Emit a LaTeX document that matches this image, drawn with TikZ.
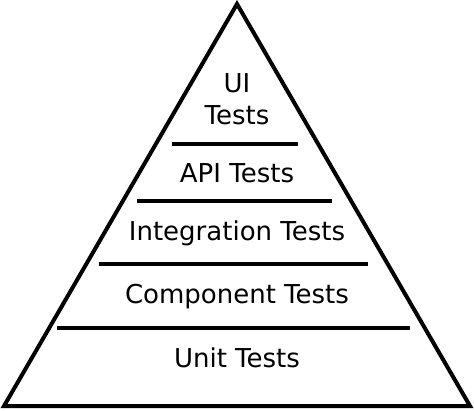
\documentclass[tikz,border=0pt]{standalone}
\usepackage{fontspec}
\setmainfont{DejaVu Sans}
\usepackage{tikz}
\begin{document}
\begin{tikzpicture}[x=1pt,y=-1pt,line width=4pt,
  every node/.style={anchor=base,inner sep=0pt,align=center,font=\fontsize{26}{32}\selectfont}]
\useasboundingbox (0,0) rectangle (474,410);
% Outline of the pyramid
\coordinate (apex) at (237,4);
\coordinate (left) at (4,406);
\coordinate (right) at (470,406);
\draw (apex) -- (left) -- (right) -- cycle;
% Dividers between the layers
\draw (172,144) -- (298,144);
\draw (137,201) -- (332,201);
\draw (99,264) -- (368,264);
\draw (57,328) -- (410,328);
% Layer labels
\node (ui) at (237,124) {UI\\Tests};
\node (api) at (237,182) {API Tests};
\node (integration) at (237,240) {Integration Tests};
\node (component) at (237,303) {Component Tests};
\node (unit) at (237,367) {Unit Tests};
\end{tikzpicture}
\end{document}
